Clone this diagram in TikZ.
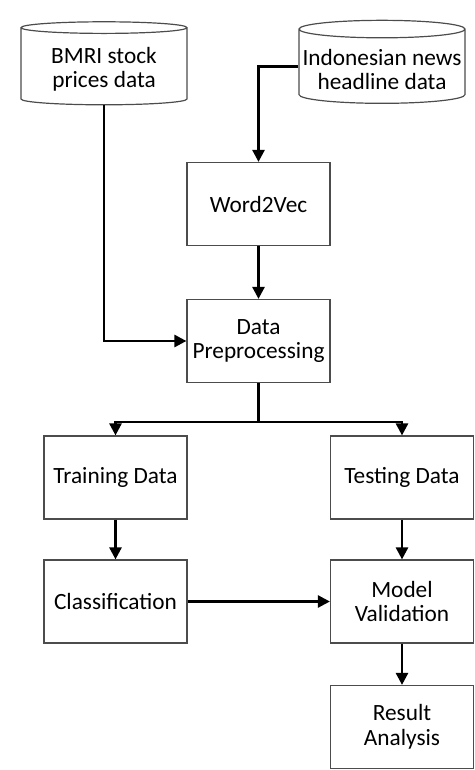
\documentclass[tikz,border=0pt]{standalone}
\usepackage{fontspec}
\setmainfont{Carlito}
\usetikzlibrary{shapes.geometric,arrows.meta}
\begin{document}
\begin{tikzpicture}[x=1pt,y=-1pt,
  txt/.style={align=center, font=\fontsize{23.3}{24.5}\selectfont},
  box/.style={txt, draw=black!70, line width=1.2pt, minimum width=143pt, minimum height=83pt, inner sep=0pt},
  db/.style={txt, cylinder, shape border rotate=90, aspect=0.11, draw=black!70, line width=1.2pt, minimum width=166pt, minimum height=83pt, inner sep=0pt},
  arr/.style={line width=2.6pt, -{Triangle[length=12pt,width=12pt]}},
  ln/.style={line width=2.6pt}]
\useasboundingbox (0,0) rectangle (474,770);
\node[db] (c1) at (104,66.5) {\phantom{BMRI stock}\\\phantom{prices data}};
\node[db] (c2) at (382,66.5) {\phantom{Indonesian news}\\\phantom{headline data}};
\node[txt] (c1t) at ([yshift=-3pt]c1.center) {BMRI stock\\prices data};
\node[txt] (c2t) at ([yshift=-3pt]c2.center) {Indonesian news\\headline data};
\node[box] (w2v) at (258.5,204) {Word2Vec};
\node[box] (dp) at (258.5,341) {Data\\Preprocessing};
\node[box] (train) at (115.5,477.5) {Training Data};
\node[box] (test) at (402,477.5) {Testing Data};
\node[box] (class) at (115.5,601.5) {Classification};
\node[box] (mv) at (402,601.5) {Model\\Validation};
\node[box] (ra) at (402,727) {Result\\Analysis};
\coordinate (split) at (258.5,422);
\draw[arr] (c2.west) -| (w2v.north);
\draw[arr] (w2v) -- (dp);
\draw[arr] (c1.south) |- (dp.west);
\draw[ln] (dp.south) -- (split);
\draw[arr] (split) -| (train.north);
\draw[arr] (split) -| (test.north);
\draw[arr] (train) -- (class);
\draw[arr] (test) -- (mv);
\draw[arr] (class) -- (mv);
\draw[arr] (mv) -- (ra);
\end{tikzpicture}
\end{document}
